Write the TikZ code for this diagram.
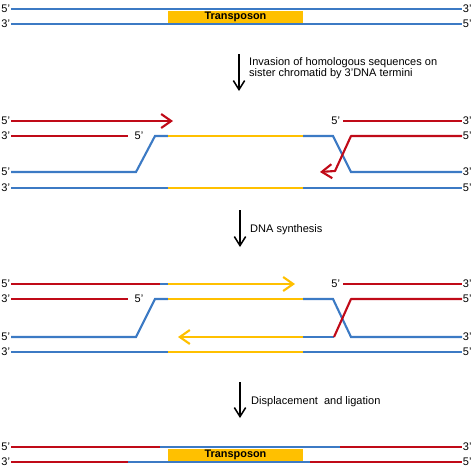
\documentclass[tikz,border=0pt]{standalone}
\usepackage{fontspec}
\setmainfont{Liberation Sans}
\usetikzlibrary{arrows.meta}
\definecolor{dnablue}{RGB}{60,122,196}
\definecolor{dnared}{RGB}{192,10,24}
\definecolor{dnayellow}{RGB}{255,192,0}

\begin{document}
\begin{tikzpicture}[x=0.03cm,y=-0.03cm]
		\tikzset{bstrand/.style = {draw=dnablue, line width=1.8pt}}
		\tikzset{rstrand/.style = {draw=dnared, line width=1.8pt, line join=round}}
		\tikzset{ystrand/.style = {draw=dnayellow, line width=1.8pt}}
		\tikzset{strandtip/.style = {-{Straight Barb[length=0.3cm,width=0.42cm]}}}
		\tikzset{stepdown/.style = {line width=1.3pt, -{Straight Barb[length=0.27cm,width=0.34cm]}}}
		\tikzset{endlabel/.style = {font=\fontsize{9.4}{9}\selectfont, inner sep=0.6pt}}
		\tikzset{lefty/.style = {endlabel, anchor=east}}
		\tikzset{righty/.style = {endlabel, anchor=west}}
		\tikzset{steptext/.style = {font=\fontsize{9.4}{8.6}\selectfont, anchor=west, align=left, inner sep=0pt}}
		\tikzset{tbox/.style = {fill=dnayellow, minimum width=4.05cm, minimum height=0.36cm, inner sep=0pt, font=\fontsize{9.3}{9}\selectfont\bfseries}}

		\useasboundingbox (0,0) rectangle (474,474);

		% before invasion
		\node[tbox] (tp1) at (235.5,16.5) {Transposon};
		\draw[bstrand] (11,9) -- (462,9);
		\draw[bstrand] (11,24) -- (462,24);

		\node[lefty] (a1) at (11,9) {5'};
		\node[lefty] (a2) at (11,24) {3'};
		\node[righty] (b1) at (462,9) {3'};
		\node[righty] (b2) at (462,24) {5'};

		\coordinate (s1) at (239,54);
		\coordinate (e1) at (239,91);
		\draw[stepdown] (s1) -- (e1);
		\node[steptext] (t1) at (249,68) {Invasion of homologous sequences on\\sister chromatid by 3'DNA termini};

		% invasion
		\draw[bstrand] (11,172) -- (136,172) -- (155,136) -- (168,136);
		\draw[ystrand] (168,136) -- (303,136);
		\draw[bstrand] (303,136) -- (333,136) -- (351,172) -- (462,172);
		\draw[bstrand] (11,188) -- (168,188);
		\draw[ystrand] (168,188) -- (303,188);
		\draw[bstrand] (303,188) -- (462,188);

		\draw[rstrand, strandtip] (11,121) -- (173,121);
		\draw[rstrand] (11,136) -- (128,136);
		\draw[rstrand] (343,121) -- (462,121);
		\draw[rstrand, strandtip] (462,136) -- (351,136) -- (335,171) -- (320,172);

		\node[endlabel] (m1) at (139,136) {5'};
		\node[endlabel, anchor=east] (m2) at (341,121) {5'};

		\node[lefty] (a3) at (11,121) {5'};
		\node[lefty] (a4) at (11,136) {3'};
		\node[lefty] (a5) at (11,172) {5'};
		\node[lefty] (a6) at (11,188) {3'};
		\node[righty] (b3) at (462,121) {3'};
		\node[righty] (b4) at (462,136) {5'};
		\node[righty] (b5) at (462,172) {3'};
		\node[righty] (b6) at (462,188) {5'};

		\coordinate (s2) at (240,210);
		\coordinate (e2) at (240,247);
		\draw[stepdown] (s2) -- (e2);
		\node[steptext] (t2) at (250,230) {DNA synthesis};

		% synthesis
		\draw[bstrand] (11,337) -- (136,337) -- (155,299) -- (168,299);
		\draw[ystrand] (168,299) -- (303,299);
		\draw[bstrand] (303,299) -- (333,299) -- (351,337) -- (462,337);
		\draw[bstrand] (11,352) -- (168,352);
		\draw[ystrand] (168,352) -- (303,352);
		\draw[bstrand] (303,352) -- (462,352);

		\draw[rstrand] (11,284) -- (160,284);
		\draw[bstrand] (160,284) -- (168,284);
		\draw[ystrand, strandtip] (168,284) -- (295,284);
		\draw[rstrand] (11,299) -- (128,299);
		\draw[rstrand] (343,284) -- (462,284);
		\draw[bstrand] (303,337) -- (334,337);
		\draw[ystrand, strandtip] (303,337) -- (178,337);
		\draw[rstrand] (334,337) -- (351,299) -- (462,299);

		\node[endlabel] (m3) at (139,299) {5'};
		\node[endlabel, anchor=east] (m4) at (341,284) {5'};

		\node[lefty] (a7) at (11,284) {5'};
		\node[lefty] (a8) at (11,299) {3'};
		\node[lefty] (a9) at (11,337) {5'};
		\node[lefty] (a10) at (11,352) {3'};
		\node[righty] (b7) at (462,284) {3'};
		\node[righty] (b8) at (462,299) {5'};
		\node[righty] (b9) at (462,337) {3'};
		\node[righty] (b10) at (462,352) {5'};

		\coordinate (s3) at (240,382);
		\coordinate (e3) at (240,418);
		\draw[stepdown] (s3) -- (e3);
		\node[steptext] (t3) at (251,402) {Displacement~ and ligation};

		% ligation
		\node[tbox] (tp2) at (235.5,454.5) {Transposon};
		\draw[rstrand] (11,447) -- (160,447);
		\draw[bstrand] (160,447) -- (340,447);
		\draw[rstrand] (340,447) -- (462,447);
		\draw[rstrand] (11,462) -- (128,462);
		\draw[bstrand] (128,462) -- (310,462);
		\draw[rstrand] (310,462) -- (462,462);

		\node[lefty] (a11) at (11,447) {5'};
		\node[lefty] (a12) at (11,462) {3'};
		\node[righty] (b11) at (462,447) {3'};
		\node[righty] (b12) at (462,462) {5'};
	\end{tikzpicture}
\end{document}
